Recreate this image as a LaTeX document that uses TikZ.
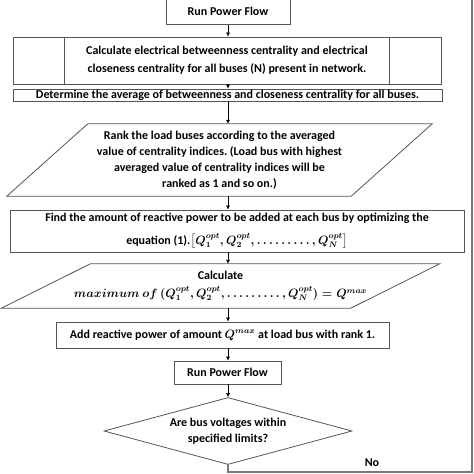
\documentclass[tikz,border=0pt]{standalone}
\usepackage{amsmath}
\usepackage{bm}
\usepackage{fontspec}
\setmainfont{Carlito}
\usetikzlibrary{arrows.meta,shapes.geometric}
\definecolor{boxgray}{RGB}{85,85,85}
\definecolor{loopgray}{RGB}{120,120,120}
\newcommand{\qopt}[1]{Q_{#1}^{opt}}
\frenchspacing

\begin{document}
\begin{tikzpicture}
[x=1pt,y=-1pt,font=\fontsize{12}{16}\selectfont\bfseries\boldmath,
 stepbox/.style={draw=boxgray,line width=0.8pt,fill=white,align=center,inner sep=0pt},
 slantbox/.style={align=center,inner sep=0pt},
 decide/.style={diamond,draw=boxgray,line width=0.8pt,align=center,inner sep=0pt},
 arr/.style={-{Latex[length=4pt,width=4pt]},line width=0.6pt},
 loopline/.style={draw=loopgray,line width=1.8pt}]
\useasboundingbox (0,0) rectangle (474,474);
% blocks of the flowchart
\node[stepbox,minimum width=124pt,minimum height=26pt] (run1) at (228,11.5) {Run Power Flow};
\node[stepbox,minimum width=428pt,minimum height=47pt,font=\fontsize{12}{18}\selectfont\bfseries] (calc) at (227,60.5)
 {Calculate electrical betweenness centrality and electrical\\closeness centrality for all buses (N) present in network.};
\draw[boxgray,line width=0.8pt] ([xshift=52pt]calc.north west)--([xshift=52pt]calc.south west);
\draw[boxgray,line width=0.8pt] ([xshift=-52pt]calc.north east)--([xshift=-52pt]calc.south east);
\node[stepbox,minimum width=429pt,minimum height=12pt] (avg) at (227.5,95)
 {Determine the average of betweenness and closeness centrality for all buses.};
\node[slantbox,minimum width=344pt,minimum height=72pt] (rank) at (219.5,160)
 {Rank the load buses according to the averaged\\value of centrality indices. (Load bus with highest\\averaged value of centrality indices will be\\ranked as 1 and so on.)};
\draw[boxgray,line width=0.8pt] ([xshift=40.5pt]rank.north west)--([xshift=40.5pt]rank.north east)
 --([xshift=-40.5pt]rank.south east)--([xshift=-40.5pt]rank.south west)--cycle;
\node[stepbox,minimum width=454pt,minimum height=42pt,font=\fontsize{12}{23}\selectfont\bfseries\boldmath] (find) at (237,231)
 {Find the amount of reactive power to be added at each bus by optimizing the\\
 equation (1).$\big[\qopt{1},\qopt{2},\ldots\ldots\ldots,\qopt{N}\big]$};
\node[slantbox,minimum width=349pt,minimum height=44pt,font=\fontsize{12}{18}\selectfont\bfseries\boldmath] (qmax) at (220.5,286)
 {Calculate\\$maximum\ of\ (\qopt{1},\qopt{2},\ldots\ldots\ldots,\qopt{N})=Q^{max}$};
\draw[boxgray,line width=0.8pt] ([xshift=44.5pt]qmax.north west)--([xshift=44.5pt]qmax.north east)
 --([xshift=-44.5pt]qmax.south east)--([xshift=-44.5pt]qmax.south west)--cycle;
\node[stepbox,minimum width=333pt,minimum height=26pt] (add) at (222.5,335)
 {Add reactive power of amount $Q^{max}$ at load bus with rank 1.};
\node[stepbox,minimum width=107pt,minimum height=23pt] (run2) at (227.5,372.5) {Run Power Flow};
\node[decide,minimum width=248pt,minimum height=67pt,aspect=3.7] (check) at (228,431)
 {Are bus voltages within\\specified limits?};
% connectors
\draw[arr] (run1.south)--(run1.south |- calc.north);
\draw[arr] (calc.south -| run1.south)--(run1.south |- avg.north);
\draw[arr] (avg.south -| run1.south)--(run1.south |- rank.north);
\draw[arr] (rank.south -| run1.south)--(run1.south |- find.north);
\draw[arr] (find.south -| run1.south)--(run1.south |- qmax.north);
\draw[arr] (qmax.south -| run1.south)--(run1.south |- add.north);
\draw[arr] (add.south -| run1.south)--(run1.south |- run2.north);
\draw[arr] (run2.south -| run1.south)--(run1.south |- check.north);
% return path for the answer no
\coordinate (bend) at (472,472);
\coordinate (top) at (472,0);
\draw[loopline] (check.south)--(check.south |- bend)--(bend)--(top);
\node (no) at (372,463) {No};
\end{tikzpicture}
\end{document}
